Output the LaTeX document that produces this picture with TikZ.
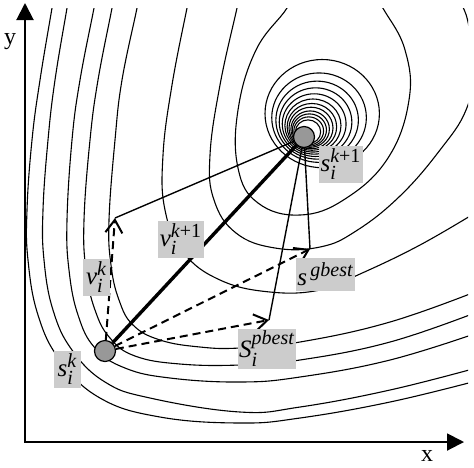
\documentclass[tikz,border=0pt]{standalone}
\usepackage{fontspec}
\setmainfont{Liberation Serif}
\usepackage{amsmath}
\DeclareMathSizes{12.5}{12.5}{10}{8}
\usetikzlibrary{arrows.meta}
\definecolor{boxgray}{RGB}{204,204,204}
\definecolor{dotgray}{RGB}{152,152,152}
\pgfdeclarelayer{bg}
\pgfsetlayers{bg,main}
\begin{document}
\begin{tikzpicture}[x=0.5pt,y=-0.5pt,
  contour/.style={line width=0.55pt},
  axisline/.style={line width=1pt},
  dasharrow/.style={line width=1pt, dash pattern=on 4pt off 2.5pt, -{Straight Barb[length=6.5pt,width=8.5pt]}},
  thinline/.style={line width=0.7pt},
  thickline/.style={line width=1.7pt},
  particle/.style={circle, draw, line width=0.6pt, fill=dotgray, minimum size=10.5pt, inner sep=0pt},
  lbl/.style={fill=boxgray, inner xsep=0.8pt, inner ysep=1.2pt, font=\fontsize{12.5}{14}\selectfont},
  axlbl/.style={inner sep=0pt, font=\fontsize{12}{14}\selectfont},
]
\useasboundingbox (0,0) rectangle (474,467);

% particles and labels
\node[particle] (sk) at (105,351) {};
\node[particle] (sk1) at (304,137) {};
\node[lbl, minimum width=20pt, minimum height=18.5pt] (Lsk1) at (341,164.5) {$\textit{s}^{\textit{k}\textup{+1}}_{\textit{i}}$};
\node[lbl, minimum width=13.5pt, minimum height=18.5pt] (Lsk) at (67.5,369.5) {$\textit{s}^{\textit{k}}_{\textit{i}}$};
\node[lbl, minimum width=13.5pt, minimum height=18.5pt] (Lvk) at (96.5,277.5) {$\textit{v}^{\textit{k}}_{\textit{i}}$};
\node[lbl, minimum width=21pt, minimum height=18.5pt] (Lvk1) at (181,239.5) {$\textit{v}^{\textit{k}\textup{+1}}_{\textit{i}}$};
\node[lbl, minimum width=25.5pt, minimum height=16.5pt] (Lg) at (325.5,274.5) {$\textit{s}^{\,\textit{gbest}}$};
\node[lbl, minimum width=28pt, minimum height=18.5pt] (Lp) at (267,348.5) {$\textit{S}^{\textit{pbest}}_{\textit{i}}$};

% axes
\coordinate (O) at (25,442);
\coordinate (ytip) at (25,3);
\coordinate (xtip) at (464,442);
\draw[axisline, {Triangle[length=8.5pt,width=8.5pt]}-{Triangle[length=8.5pt,width=8.5pt]}] (ytip) -- (O) -- (xtip);
\node[axlbl] (ylab) at (10,42) {y};
\node[axlbl] (xlab) at (427,456) {x};

% arrow tips
\coordinate (vtip) at (115,218);
\coordinate (ptip) at (269,320);
\coordinate (gtip) at (310,249);

\begin{pgfonlayer}{bg}
\begin{scope}
\clip (25,8) rectangle (468,442);
% outer contours
\draw[contour] plot[smooth, tension=0.7] coordinates {(55,-10) (52,8) (40,80) (32,140) (27,210) (28,260) (38,315) (60,360) (100,398) (160,417) (240,423) (300,418) (390,402) (480,380)};
\draw[contour] plot[smooth, tension=0.7] coordinates {(70,-10) (67,8) (55,80) (48,140) (43,210) (44,260) (53,310) (72,350) (105,382) (150,398) (240,412) (300,407) (390,390) (480,367)};
\draw[contour] plot[smooth, tension=0.7] coordinates {(97,-10) (94,8) (80,80) (72,140) (67,220) (69,270) (78,315) (95,348) (125,368) (170,378) (240,382) (300,377) (390,360) (480,332)};
\draw[contour] plot[smooth, tension=0.7] coordinates {(115,-10) (112,8) (98,80) (90,140) (84,220) (86,270) (95,310) (110,338) (135,356) (180,364) (240,365) (300,360) (390,342) (480,311)};
\draw[contour] plot[smooth, tension=0.7] coordinates {(140,-10) (137,8) (122,80) (115,140) (109,220) (111,265) (119,300) (133,325) (160,340) (200,347) (240,348) (300,342) (390,322) (480,290)};
\draw[contour] plot[smooth, tension=0.7] coordinates {(191,-10) (187,8) (172,85) (163,155) (165,210) (183,252) (220,280) (270,292) (320,290) (360,274) (420,245) (480,210)};
\draw[contour] plot[smooth, tension=0.7] coordinates {(242,-15) (237,8) (220,85) (210,155) (214,200) (236,233) (275,248) (320,247) (356,231) (400,196) (440,150) (466,110) (474,68) (469,27) (462,5) (450,-15)};
\draw[contour] plot[smooth, tension=0.7] coordinates {(294,-12) (287,8) (256,50) (238,110) (238,168) (258,203) (300,215) (345,199) (388,158) (409,100) (405,50) (384,10) (370,-10)};
% inner rings
\foreach \s in {11.5,13.5,15.5,17.5,20,22.5,25.5,29,33,37.5,43,52} {
  \pgfmathsetmacro{\rx}{0.55*\s}
  \pgfmathsetmacro{\ry}{0.52*\s}
  \draw[contour] (304+0.35*\s,137-0.45*\s) ellipse [x radius=\rx pt, y radius=\ry pt];
}
\end{scope}
% velocity construction
\draw[dasharrow] (sk) -- (vtip);
\draw[dasharrow] (sk) -- (ptip);
\draw[dasharrow] (sk) -- (gtip);
\draw[thinline] (vtip) -- (sk1);
\draw[thinline] (ptip) -- (sk1);
\draw[thinline] (gtip) -- (sk1);
\draw[thickline] (sk) -- (sk1);
\end{pgfonlayer}
\end{tikzpicture}
\end{document}
